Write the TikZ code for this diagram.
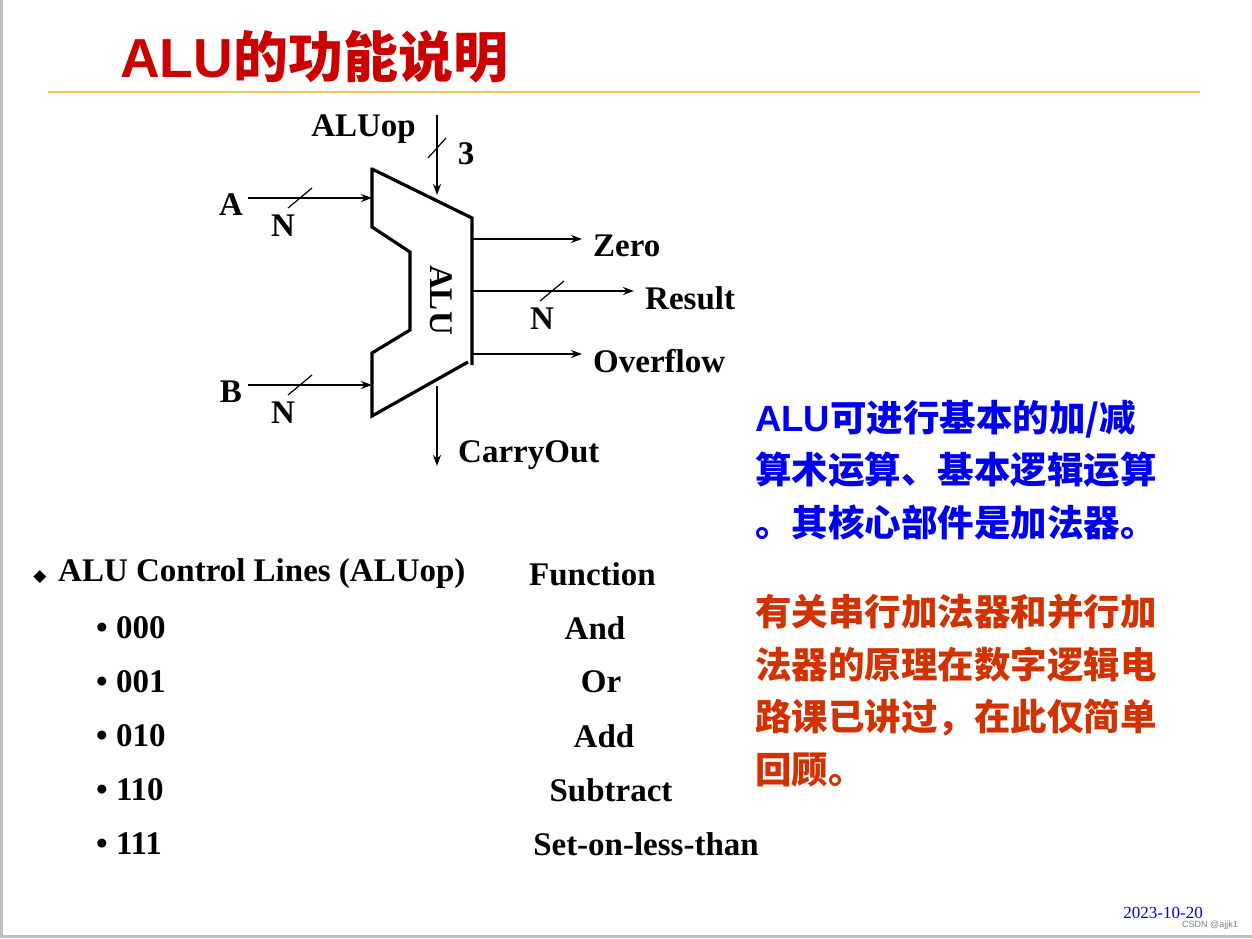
\documentclass[tikz,border=0pt]{standalone}
\usepackage{fontspec}
\setmainfont{Liberation Serif}
\newfontfamily\cjk{Noto Sans CJK SC}
\newfontfamily\lsans{Liberation Sans}
\newfontfamily\djv{DejaVu Sans}
\usetikzlibrary{arrows.meta}
\definecolor{tred}{RGB}{204,0,0}
\definecolor{tblue}{RGB}{0,0,240}
\definecolor{tora}{RGB}{210,50,0}
\definecolor{hline}{RGB}{240,200,90}
\begin{document}
\begin{tikzpicture}[x=1pt,y=-1pt,
  lab/.style={font=\fontsize{33}{34}\selectfont\bfseries,inner sep=0pt},
  wire/.style={line width=2pt,-{Stealth[length=11pt,width=8pt]}},
  slash/.style={line width=1.2pt},
  cn/.style={font=\cjk\fontsize{36.5}{52.5}\selectfont\bfseries,inner sep=0pt,anchor=north west,align=left}]
\useasboundingbox (0,0) rectangle (1252,938);
\fill[white] (0,0) rectangle (1252,938);
\draw[gray!50,line width=3pt] (1.5,0) -- (1.5,936.5) -- (1252,936.5);
\draw[hline,line width=1.2pt] (48,92) -- (1200,92);
\node[anchor=west,inner sep=0pt,text=tred] (title) at (120,57) {\lsans\fontsize{55}{57}\selectfont\bfseries ALU\cjk 的功能说明};
% ALU shape
\draw[line width=3.2pt,line join=miter] (372,169) -- (472,218) -- (472,365);
\draw[line width=3.2pt] (468,362) -- (372,416) -- (372,353) -- (410,330) -- (410,252) -- (372,227) -- (372,167.5);
\node[lab,rotate=-90] (alu) at (441,300) {ALU};
\coordinate (opt) at (437,115); \coordinate (opb) at (437,195);
\draw[wire] (opt) -- (opb);
\draw[slash] (428,158) -- (446,138);
\node[lab,anchor=east] (aluop) at (416,129) {ALUop};
\node[lab] (three) at (466,154) {3};
\coordinate (a0) at (248,198); \coordinate (a1) at (372,198);
\draw[wire] (a0) -- (a1); \draw[slash] (288,208) -- (312,188);
\node[lab] (A) at (231,205) {A}; \node[lab] (NA) at (283,226) {N};
\coordinate (b0) at (248,385); \coordinate (b1) at (372,385);
\draw[wire] (b0) -- (b1); \draw[slash] (288,395) -- (312,375);
\node[lab] (B) at (231,392) {B}; \node[lab] (NB) at (283,413) {N};
\coordinate (z0) at (472,239); \coordinate (z1) at (582,239);
\draw[wire] (z0) -- (z1); \node[lab,anchor=west] (zero) at (593,246) {Zero};
\coordinate (r0) at (472,291); \coordinate (r1) at (634,291);
\draw[wire] (r0) -- (r1); \draw[slash] (540,301) -- (564,281);
\node[lab,anchor=west] (res) at (645,298) {Result}; \node[lab] (NR) at (542,319) {N};
\coordinate (o0) at (472,354); \coordinate (o1) at (582,354);
\draw[wire] (o0) -- (o1); \node[lab,anchor=west] (ovf) at (593,361) {Overflow};
\coordinate (c0) at (437,386); \coordinate (c1) at (437,466);
\draw[wire] (c0) -- (c1); \node[lab,anchor=west] (co) at (458,455) {CarryOut};
% table
\node[inner sep=0pt] (dia) at (40,577) {\fontsize{17}{17}\selectfont\djv ◆};
\node[lab,anchor=west] (h1) at (58,574) {ALU Control Lines (ALUop)};
\node[lab,anchor=west] (h2) at (529,574) {Function};
\foreach \c/\y in {000/628,001/682,010/736,110/790,111/844}
  \node[lab,anchor=west] at (96,\y) {•\ \c};
\node[lab] (f1) at (595,628) {And};
\node[lab] (f2) at (601,682) {Or};
\node[lab] (f3) at (604,736) {Add};
\node[lab] (f4) at (611,790) {Subtract};
\node[lab] (f5) at (646,844) {Set-on-less-than};
\node[cn,text=tblue] (blue) at (755,400) {\lsans ALU\cjk 可进行基本的加/减\\算术运算、基本逻辑运算\\。其核心部件是加法器。};
\node[cn,text=tora] (red) at (755,594) {有关串行加法器和并行加\\法器的原理在数字逻辑电\\路课已讲过，在此仅简单\\回顾。};
\node[anchor=east,inner sep=0pt,text=tblue,font=\fontsize{17}{18}\selectfont] (date) at (1203,913) {2023-10-20};
\node[anchor=east,inner sep=0pt,text=gray,font=\lsans\fontsize{9}{10}\selectfont] (wm) at (1238,925) {CSDN @ajjk1};
\end{tikzpicture}
\end{document}
